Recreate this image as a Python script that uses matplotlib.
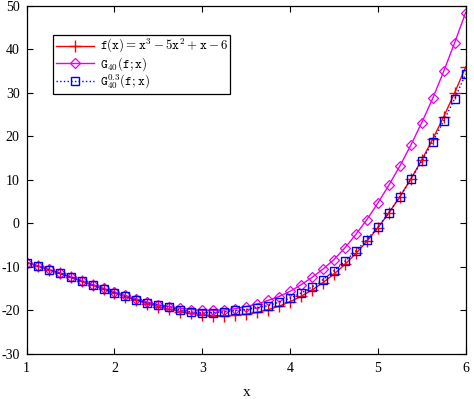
import numpy as np
import matplotlib
matplotlib.use('Agg')
import matplotlib.pyplot as plt

plt.rcParams['font.family'] = ['Liberation Serif', 'DejaVu Serif']
plt.rcParams['mathtext.fontset'] = 'cm'
plt.rcParams['axes.unicode_minus'] = False

# grid of 41 nodes on [1, 6]
xs = [1.0, 1.125, 1.25, 1.375, 1.5, 1.625, 1.75, 1.875, 2.0, 2.125, 2.25,
      2.375, 2.5, 2.625, 2.75, 2.875, 3.0, 3.125, 3.25, 3.375, 3.5,
      3.625, 3.75, 3.875, 4.0, 4.125, 4.25, 4.375, 4.5, 4.625, 4.75,
      4.875, 5.0, 5.125, 5.25, 5.375, 5.5, 5.625, 5.75, 5.875, 6.0]

f_vals = [-9.0, -9.78, -10.61, -11.48, -12.38, -13.29, -14.20, -15.11, -16.0, -16.86, -17.67,
          -18.43, -19.13, -19.74, -20.27, -20.69, -21.0, -21.19, -21.23, -21.14, -20.88,
          -20.45, -19.83, -19.02, -18.0, -16.76, -15.30, -13.59, -11.63, -9.40, -6.89,
          -4.10, -1.0, 2.41, 6.14, 10.21, 14.63, 19.40, 24.55, 30.08, 36.0]

g40_vals = [-9.0, -9.75, -10.55, -11.4, -12.25, -13.15, -14.05, -14.9, -15.75, -16.55, -17.35,
            -18.1, -18.7, -19.1, -19.5, -19.8, -20.0, -20.0, -19.9, -19.6, -19.1,
            -18.5, -17.7, -16.8, -15.6, -14.1, -12.4, -10.5, -8.3, -5.6, -2.5,
            0.9, 4.7, 8.8, 13.2, 18.0, 23.2, 28.8, 35.0, 41.6, 48.5]

g40_03_vals = [-9.0, -9.77, -10.6, -11.45, -12.33, -13.25, -14.15, -15.05, -15.9, -16.75, -17.55,
               -18.3, -18.8, -19.3, -19.9, -20.35, -20.6, -20.5, -20.3, -20.0, -19.8,
               -19.4, -18.9, -18.1, -17.2, -16.0, -14.6, -12.9, -10.9, -8.7, -6.3,
               -3.7, -0.9, 2.5, 6.1, 10.2, 14.3, 18.8, 23.6, 28.7, 34.4]

fig = plt.figure(figsize=(4.74, 3.99), dpi=100)
ax = fig.add_axes([0.0563, 0.113, 0.9262, 0.872])

ax.plot(xs, f_vals, color='#ff0000', lw=1.0, marker='+', ms=8, mew=1.0,
        label=r'$\mathtt{f(x) = x^3 - 5x^2 + x - 6}$')
ax.plot(xs, g40_vals, color='#e600e6', lw=1.0, marker='D', ms=5.5, mew=0.9,
        mfc='none', label=r'$\mathtt{G_{40}(f;x)}$')
ax.plot(xs, g40_03_vals, color='#0000ee', lw=1.0, ls=':', marker='s', ms=5.5, mew=1.0,
        mfc='none', label=r'$\mathtt{G_{40}^{0.3}(f;x)}$')

ax.set_xlim(1, 6)
ax.set_ylim(-30, 50)
ax.set_xticks([1, 2, 3, 4, 5, 6])
ax.set_yticks(np.arange(-30, 51, 10))
ax.tick_params(direction='in', top=True, right=True, labelsize=10, length=4, pad=6)
ax.tick_params(axis='y', pad=5)
ax.set_xlabel('x', fontsize=11, labelpad=8)
for s in ax.spines.values():
    s.set_linewidth(0.9)

leg = ax.legend(loc='upper left', bbox_to_anchor=(0.06, 0.917), borderaxespad=0,
                fontsize=9.3, fancybox=False, edgecolor='black', framealpha=1,
                handlelength=3.0, handletextpad=0.4, labelspacing=0.0, borderpad=0.2)
leg.get_frame().set_linewidth(0.9)

fig.savefig('out.png', dpi=100)
